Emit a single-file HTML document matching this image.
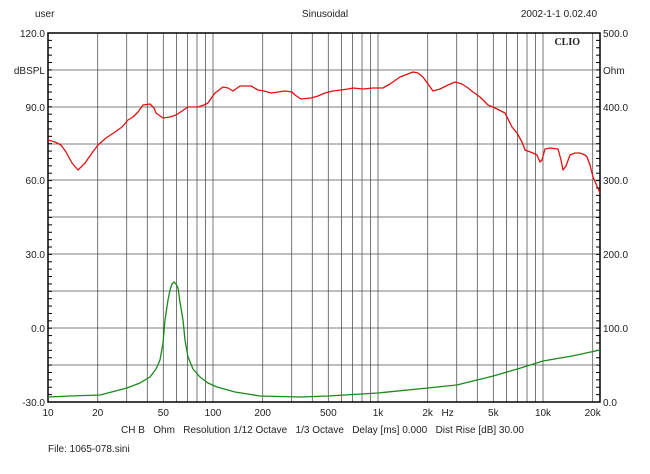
<!DOCTYPE html>
<html><head><meta charset="utf-8"><style>
body{margin:0;background:#fff;width:650px;height:469px;overflow:hidden}
svg text{font-family:"Liberation Sans",sans-serif;font-size:10px;fill:#222;white-space:pre}
</style></head><body>
<svg id="s" width="650" height="469" xmlns="http://www.w3.org/2000/svg">
<text x="35" y="17">user</text>
<text x="325" y="17" text-anchor="middle">Sinusoidal</text>
<text x="597" y="17" text-anchor="end">2002-1-1 0.02.40</text>
<text x="580" y="45" text-anchor="end" style="font-family:'Liberation Serif',serif;font-weight:bold;font-size:10px">CLIO</text>
<g id="g"></g>
<rect x="48" y="33" width="552" height="369" fill="none" stroke="#000" stroke-width="1.5"/>
<g text-anchor="end">
<text x="45" y="37">120.0</text><text x="45" y="74">dBSPL</text><text x="45" y="111">90.0</text>
<text x="45" y="184">60.0</text><text x="45" y="258">30.0</text><text x="45" y="332">0.0</text><text x="45" y="406">-30.0</text>
</g>
<g>
<text x="603" y="37">500.0</text><text x="603" y="74">Ohm</text><text x="603" y="111">400.0</text>
<text x="603" y="184">300.0</text><text x="603" y="258">200.0</text><text x="603" y="332">100.0</text><text x="603" y="406">0.0</text>
</g>
<g id="xl" text-anchor="middle"></g>
<text x="121" y="433" xml:space="preserve">CH B   Ohm   Resolution 1/12 Octave   1/3 Octave   Delay [ms] 0.000   Dist Rise [dB] 30.00</text>
<text x="48" y="452">File: 1065-078.sini</text>
<path id="red" fill="none" stroke="#e01010" stroke-width="1.3" stroke-linejoin="round"/>
<path id="grn" fill="none" stroke="#1a8a1a" stroke-width="1.3" stroke-linejoin="round"/>
</svg>
<script>
const X=f=>48+165*Math.log10(f/10);
let g='';
[20,30,40,50,60,70,80,90,100,200,300,400,500,600,700,800,900,1000,2000,3000,4000,5000,6000,7000,8000,9000,10000,20000].forEach(f=>{const x=X(f).toFixed(1);g+=`<line x1="${x}" y1="33" x2="${x}" y2="402" stroke="#555" stroke-width="0.8"/>`;});
[70,107,144,180,217,254,291,328,365].forEach(y=>g+=`<line x1="48" y1="${y}" x2="600" y2="${y}" stroke="#555" stroke-width="0.8"/>`);
for(let y=33;y<402;y+=7.38){g+=`<line x1="48" y1="${y}" x2="52" y2="${y}" stroke="#000"/><line x1="596" y1="${y}" x2="600" y2="${y}" stroke="#000"/>`;}
document.getElementById('g').innerHTML=g;
let xl='';[[10,'10'],[20,'20'],[50,'50'],[100,'100'],[200,'200'],[500,'500'],[1000,'1k'],[2000,'2k'],[5000,'5k'],[10000,'10k'],[20000,'20k']].forEach(([f,t])=>xl+=`<text x="${X(f)}" y="416">${t}</text>`);
xl+=`<text x="${X(2000)+20}" y="416">Hz</text>`;
document.getElementById('xl').innerHTML=xl;
const red=[[48,140],[55,142],[61,145],[66,152],[72,163],[78,170],[85,163],[92,153],[98,145],[106,138],[115,132],[122,127],[128,120],[133,117],[138,112],[143,105],[150,104],[154,108],[156,113],[163,118],[170,117],[176,115],[182,111],[188,107],[198,107],[204,105],[208,103],[212,97],[215,93],[223,87],[228,88],[233,91],[240,86],[251,86],[258,90],[264,91],[271,93],[278,92],[285,91],[292,92],[295,95],[301,99],[311,98],[318,96],[325,93],[333,91],[341,90],[348,89],[353,88],[363,89],[373,88],[383,88],[390,84],[400,77],[413,72],[418,73],[423,77],[428,84],[433,91],[440,89],[448,85],[455,82],[462,84],[468,88],[473,92],[480,97],[488,105],[495,108],[505,113],[512,127],[517,133],[522,142],[525,150],[533,153],[537,155],[540,162],[542,160],[545,149],[550,148],[558,149],[561,160],[563,170],[566,166],[570,155],[575,153],[580,153],[585,155],[587,157],[590,165],[593,177],[597,186],[600,193]];
const grn=[[48,397],[70,396],[100,395],[127,388],[140,383],[150,377],[156,369],[160,360],[163,343],[165,320],[168,300],[170,290],[172,284],[174,282],[176,284],[178,288],[180,302],[183,320],[185,340],[188,357],[193,369],[200,377],[208,383],[217,387],[235,392],[260,396],[300,397],[X(500),396],[X(1000),393],[X(2000),388],[X(3000),385],[X(5000),376],[X(7000),369],[X(10000),361],[X(15000),356],[600,350]];
const P=a=>'M'+a.map(([x,y])=>(+x).toFixed(1)+','+y).join('L');
document.getElementById('red').setAttribute('d',P(red));
document.getElementById('grn').setAttribute('d',P(grn));
</script>
</body></html>
